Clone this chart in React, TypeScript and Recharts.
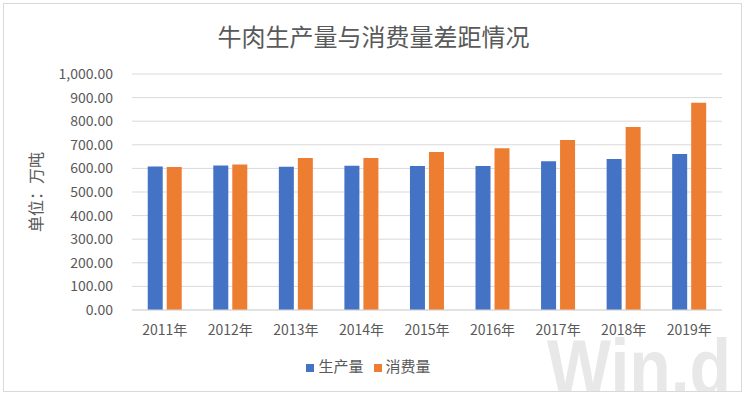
import { BarChart, Bar, XAxis, YAxis, CartesianGrid, Legend } from 'recharts';

const YEARS = ['2011年', '2012年', '2013年', '2014年', '2015年', '2016年', '2017年', '2018年', '2019年'];
const PRODUCTION = [608, 612, 607, 611, 610, 610, 630, 640, 661];
const CONSUMPTION = [606, 616, 644, 644, 669, 685, 720, 775, 878];
const Y_TICKS = [0, 100, 200, 300, 400, 500, 600, 700, 800, 900, 1000];
const SERIES = ['生产量', '消费量'];

const FONT = '"Noto Sans CJK SC", "Noto Sans", sans-serif';
const TEXT = '#595959';

const rows = YEARS.map((year, i) => ({ year, 生产量: PRODUCTION[i], 消费量: CONSUMPTION[i] }));

const fmt = (v: number) =>
  v.toLocaleString('en-US', { minimumFractionDigits: 2, maximumFractionDigits: 2 });

export default function App() {
  return (
    <div style={{ position: 'fixed', left: 0, top: 0, width: 747, height: 396, background: '#fff', fontFamily: FONT }}>
      <div style={{ position: 'absolute', left: 3, top: 3, width: 737, height: 387, border: '1px solid #d9d9d9', overflow: 'hidden' }}>
        {/* watermark */}
        <div style={{ position: 'absolute', left: 543, top: 335, fontSize: 78, fontWeight: 700, color: '#e8e8e8',
          fontFamily: 'Liberation Sans, sans-serif', lineHeight: 0.72, transform: 'scaleX(0.87)', transformOrigin: 'left top' }}>
          Win.d
        </div>
      </div>
      <div style={{ position: 'absolute', left: 0, top: 19, width: 747, textAlign: 'center', fontSize: 24, color: TEXT, lineHeight: '34px' }}>
        牛肉生产量与消费量差距情况
      </div>
      <div style={{ position: 'absolute', left: 35, top: 192, transform: 'translate(-50%, -50%) rotate(-90deg)', fontSize: 16, color: TEXT, whiteSpace: 'nowrap' }}>
        单位：万吨
      </div>
      <div style={{ position: 'absolute', left: 0, top: 0 }}>
        <BarChart width={747} height={396} data={rows} margin={{ top: 74, right: 25, bottom: 56, left: 72 }} barCategoryGap="24%" barGap={4}>
          <CartesianGrid vertical={false} stroke="#d9d9d9" />
          <XAxis dataKey="year" tickLine={false} axisLine={{ stroke: '#d9d9d9' }} height={30} tickMargin={9}
            tick={{ fill: TEXT, fontSize: 14, fontFamily: FONT }} interval={0} />
          <YAxis domain={[0, 1000]} ticks={Y_TICKS} tickFormatter={fmt} width={60} tickLine={false} axisLine={false}
            tickMargin={13} tick={{ fill: TEXT, fontSize: 14, fontFamily: FONT }} />
          <Legend verticalAlign="middle" iconType="square" iconSize={8}
            itemSorter={(item: any) => SERIES.indexOf(item.dataKey)}
            wrapperStyle={{ top: 355, left: 0, width: 747, fontSize: 15, fontFamily: FONT }}
            formatter={(v: string) => <span style={{ color: TEXT }}>{v}</span>} />
          <Bar dataKey="生产量" fill="#4472C4" isAnimationActive={false} />
          <Bar dataKey="消费量" fill="#ED7D31" isAnimationActive={false} />
        </BarChart>
      </div>
    </div>
  );
}
